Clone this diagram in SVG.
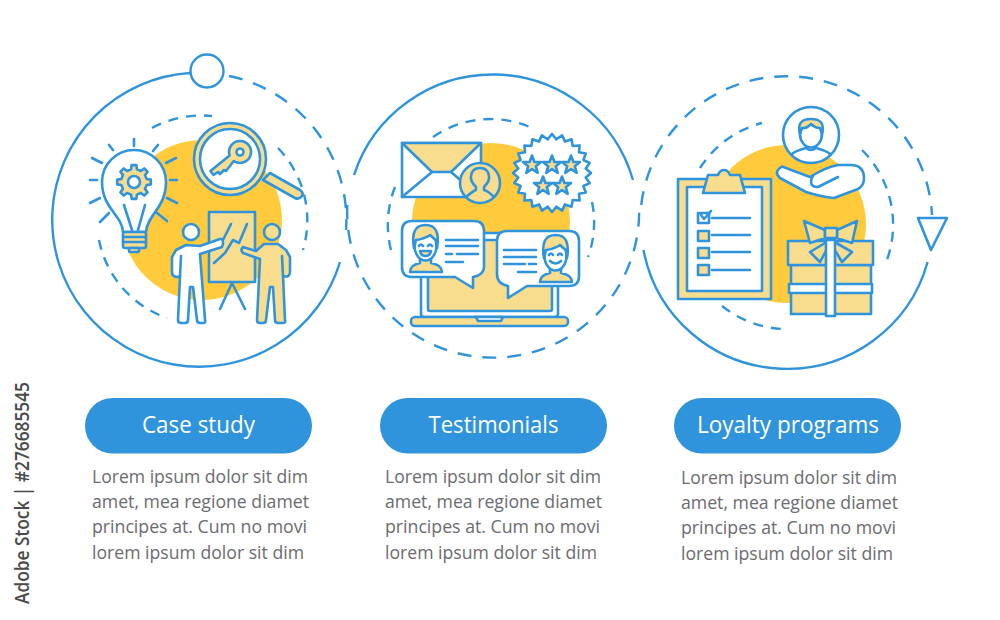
<svg xmlns="http://www.w3.org/2000/svg" width="1000" height="620" viewBox="0 0 1000 620">
<style>
.s{stroke:#3094DC;stroke-width:2.6;stroke-linejoin:round;stroke-linecap:round;fill:none}
.w{fill:#fff}.l{fill:#F9DD8F}
.c{fill:none;stroke:#3094DC;stroke-width:2.4}
.d{stroke-dasharray:14 11}
.i{stroke-dasharray:10 8}
.y{fill:#FFCB3D}
.pill{fill:#3094DC}
.t{font-family:"Open Sans","Liberation Sans",sans-serif;font-size:24px;fill:#fff;text-anchor:middle}
.b{font-family:"Open Sans","Liberation Sans",sans-serif;font-size:18px;fill:#6b6b70}
</style>
<defs>
<polygon id="star" points="0,-9.500 2.4,-3 9,-3 3.800,1.200 5.700,7.800 0,4 -5.700,7.800 -3.800,1.200 -9,-3 -2.4,-3" class="s l"/>
</defs>
<rect width="1000" height="620" fill="#fff"/>
<g id="connectors">
<path class="c" d="M190 73A147 147 0 1 0 340 262"/>
<path class="c d" d="M229 76A147 147 0 0 1 346 230"/>
<path class="c" d="M354 175A146 146 0 0 1 633 180"/>
<path class="c d" d="M347.300 205A146 146 0 1 0 639 205"/>
<path class="c d" d="M641.200 205A146 146 0 0 1 932 215"/>
<path class="c" d="M643.500 250A146 146 0 0 0 927.600 262"/>
<circle class="c" cx="207" cy="71" r="16.500"/>
<path class="c i" d="M152 128A104 104 0 0 1 212 116"/>
<path class="c i" d="M99 240A104 104 0 0 0 167 318"/>
<path class="c i" d="M278 148A104 104 0 0 1 303 250"/>
<path class="c i" d="M433 137A101 101 0 0 1 532 128"/>
<path class="c i" d="M395 187A103 103 0 0 0 393 257"/>
<path class="c i" d="M592 202A100 100 0 0 1 588 257"/>
<path class="c i" d="M700 168A105 105 0 0 1 762 123"/>
<path class="c i" d="M862 150A105 105 0 0 1 885 265"/>
<path class="c i" d="M722 306A105 105 0 0 0 782 329"/>
<polygon class="s w" points="918,218 947,218 931,250"/>
</g>
<g id="node-case-study">
<circle class="y" cx="202" cy="220" r="80"/>
<g id="bulb">
<path class="s w" d="M123 232C122 215 102 208 102 182A32 32 0 0 1 166 182C166 208 147 215 146 232Z"/>
<path class="s" d="M124 205L132 230M145 205L138 230M134 139V146M109 145L113 150M158 145L153 151M92 158L102 163M166 163L176 158M90 180H97M170 180H177M90 203L100 198M167 198L177 203M100 222L109 213M157 213L167 221"/>
<rect class="s l" x="123" y="232" width="23" height="16" rx="2"/>
<path class="s" d="M123 237H146M123 242H146"/>
<rect class="s l" x="129" y="248" width="10" height="4" rx="1"/>
<polygon class="s l" transform="translate(134 182)" points="12.67,-2.92 16.83,-2.37 16.83,2.37 12.67,2.92 11.02,6.89 13.58,10.23 10.23,13.58 6.89,11.02 2.92,12.67 2.37,16.83 -2.37,16.83 -2.92,12.67 -6.89,11.02 -10.23,13.58 -13.58,10.23 -11.02,6.89 -12.67,2.92 -16.83,2.37 -16.83,-2.37 -12.67,-2.92 -11.02,-6.89 -13.58,-10.23 -10.23,-13.58 -6.89,-11.02 -2.92,-12.67 -2.37,-16.83 2.37,-16.83 2.92,-12.67 6.89,-11.02 10.23,-13.58 13.58,-10.23 11.02,-6.89"/>
<circle class="s w" cx="134" cy="182" r="6"/>
</g>
<g id="magnifier">
<path class="s l" d="M263 180L270 173L300 190Q304 193 302 196Q299 200 295 198Z"/>
<circle class="s l" cx="230" cy="159" r="36"/>
<circle class="s w" cx="230" cy="159" r="30"/>
<path class="s l" d="M229.600 155.400L210.500 171L213.500 175L218 172L220 174L224 170L226 171L233.800 161A11 11 0 1 0 229.600 155.400Z"/>
<circle class="s w" cx="240" cy="152" r="3.500"/>
</g>
<g id="board">
<path class="s" d="M232 283L220 309M232 283L245 309"/>
<rect class="s l" x="209" y="212" width="46" height="70"/>
<path class="s" d="M214 263L225 253L233 240L239 243L247 224M223 240L231 224"/>
</g>
<g id="presenter">
<circle class="s w" cx="191" cy="232" r="8"/>
<path class="s w" d="M220 239L200 246L186 245L176 250L172 257V272Q172 277 178 277L180 276L178 320Q178 323 181 323H185Q188 323 188 320L190 287H193L197 320Q197 323 200 323H203Q206 323 205 320L200 254L222 247Q224 243 222 239Z"/>
<path class="s" d="M181 256L180 276"/>
</g>
<g id="listener">
<circle class="s l" cx="272" cy="232" r="8"/>
<path class="s l" d="M243 247Q240 250 243 253L260 259L257 320Q257 323 260 323H263Q266 323 266 320L270 287H273L275 320Q275 323 278 323H283Q286 323 285 320L283 276Q290 278 290 272V257L286 250L278 244H264L256 251Z"/>
<path class="s" d="M282 256L283 276"/>
</g>
</g>
<g id="node-testimonials">
<circle class="y" cx="491" cy="222" r="79"/>
<g id="envelope">
<rect class="s w" x="402" y="143" width="79" height="54"/>
<polygon class="s l" points="402,143 481,143 451,172 432,172"/>
<path class="s" d="M402 197L432 172M451 172L465 184"/>
<circle class="s l" cx="480" cy="183" r="20"/>
<path class="s" d="M466 197Q473 191 476 190V187Q470 181 471 176Q472 168 480 168Q488 168 489 176Q490 181 484 187V190Q488 191 494 197"/>
</g>
<g id="rosette">
<polygon class="s w" transform="translate(552 173)" points="39,0 33.71,4.44 37.67,10.09 31.41,13.01 33.77,19.5 26.97,20.7 27.58,27.58 20.7,26.97 19.5,33.77 13.01,31.41 10.09,37.67 4.44,33.71 0,39 -4.44,33.71 -10.09,37.67 -13.01,31.41 -19.5,33.77 -20.7,26.97 -27.58,27.58 -26.97,20.7 -33.77,19.5 -31.41,13.01 -37.67,10.09 -33.71,4.44 -39,0 -33.71,-4.44 -37.67,-10.09 -31.41,-13.01 -33.77,-19.5 -26.97,-20.7 -27.58,-27.58 -20.7,-26.97 -19.5,-33.77 -13.01,-31.41 -10.09,-37.67 -4.44,-33.71 0,-39 4.44,-33.71 10.09,-37.67 13.01,-31.41 19.5,-33.77 20.7,-26.97 27.58,-27.58 26.97,-20.7 33.77,-19.5 31.41,-13.01 37.67,-10.09 33.71,-4.44"/>
<use href="#star" x="532" y="165"/><use href="#star" x="552" y="165"/><use href="#star" x="571" y="165"/><use href="#star" x="543" y="186"/><use href="#star" x="562" y="186"/>
</g>
<g id="laptop">
<rect class="s w" x="421" y="233" width="137" height="84" rx="3"/>
<rect class="s l" x="428" y="240" width="124" height="71" rx="2"/>
<rect class="s l" x="411" y="317" width="157" height="9" rx="4"/>
<path class="s w" d="M476 317H503L501 321H478Z"/>
</g>
<g id="bubble-left">
<path class="s w" d="M412 221H474Q484 221 484 231V267Q484 275 473 277V288L455 277H412Q402 277 402 267V231Q402 221 412 221Z"/>
<path class="s" d="M446 240H478M446 246H478M446 254H452M457 254H478M446 262H463"/>
<path class="s l" d="M410 272Q410 265 420 263V258H431V263Q442 265 442 272Z"/>
<ellipse class="s w" cx="425.500" cy="246" rx="11" ry="14.500"/>
<path class="s l" d="M414 248Q410 225 425.500 225Q441 225 437 248L436 240Q433 238 430 235Q424 239 416 240Z"/>
<path class="s" d="M419 246Q421 243 423 246M428 246Q430 243 432 246"/>
<path class="s l" d="M420 251H431Q430 256 425.500 256Q421 256 420 251Z"/>
</g>
<g id="bubble-right">
<path class="s w" d="M507 231H569Q579 231 579 241V276Q579 286 569 286H527L508 298V286Q497 284 497 274V241Q497 231 507 231Z"/>
<path class="s" d="M504 250H536M504 257H536M504 264H525M529 264H536M518 272H536"/>
<path class="s l" d="M540 282Q540 275 550 273V268H561V273Q572 275 572 282Z"/>
<ellipse class="s w" cx="555.500" cy="256" rx="11" ry="14.500"/>
<path class="s l" d="M544 258Q540 235 555.500 235Q571 235 567 258L566 250Q563 248 560 245Q554 249 546 250Z"/>
<path class="s" d="M549 255Q551 252 553 255M558 255Q560 252 562 255M550 261Q555.500 266 561 261"/>
</g>
</g>
<g id="node-loyalty">
<circle class="y" cx="787" cy="224" r="79"/>
<g id="customer">
<circle class="s w" cx="811" cy="135" r="28"/>
<path class="s" d="M792 154Q795 151 806 148V144M816 144V148Q827 151 830 154M806 148Q811 152 816 148"/>
<ellipse class="s w" cx="811" cy="134" rx="11" ry="13.500"/>
<path class="s l" d="M800 134Q796 119 811 119Q826 119 822 134L820 128Q815 128 811 124Q806 129 802 128Z"/>
</g>
<g id="hand">
<path class="s w" d="M782 166.500L810 177Q826 167 838 165H852Q864 166 864 178Q864 186 858 189L834 198Q822 197 806 192L780 178Q773 172 782 166.500Z"/>
<path class="s" d="M838 177L818 187Q811 187 811 182Q811 178 813 176"/>
</g>
<g id="clipboard">
<rect class="s l" x="678" y="179" width="93" height="120"/>
<rect class="s w" x="687" y="187" width="75" height="104"/>
<path class="s l" d="M703 193H745L740 175H730Q728 170 724 170Q720 170 718 175H708Z"/>
<path class="s" d="M712 218H750M712 235H750M712 252H750M712 270H750"/>
<rect class="s w" x="698" y="213" width="11" height="10"/>
<rect class="s l" x="698" y="231" width="11" height="10"/>
<rect class="s l" x="698" y="248" width="11" height="10"/>
<rect class="s l" x="698" y="265" width="11" height="10"/>
<path class="s" d="M701 215L704 219L711 211"/>
</g>
<g id="gift">
<rect class="s l" x="791" y="265" width="80" height="49"/>
<rect class="s l" x="788" y="241" width="85" height="24"/>
<rect class="s w" x="789" y="284" width="83" height="9"/>
<path class="s l" d="M830 240L810 252L820 262L828 247ZM831 240L852 252L842 262L833 247Z"/>
<rect class="s w" x="826" y="240" width="9" height="76"/>
<path class="s l" d="M825 230L804 221L810 243L825 238ZM837 230L857 221L852 243L837 238Z"/>
<rect class="s l" x="825" y="228" width="12" height="10"/>
</g>
</g>
<g id="labels">
<rect class="pill" x="85" y="398" width="227" height="55.500" rx="27.700"/>
<rect class="pill" x="380" y="398" width="227" height="55.500" rx="27.700"/>
<rect class="pill" x="674" y="398" width="227" height="55.500" rx="27.700"/>
<text class="t" x="198.500" y="433" textLength="113" lengthAdjust="spacingAndGlyphs">Case study</text>
<text class="t" x="493.500" y="433" textLength="130" lengthAdjust="spacingAndGlyphs">Testimonials</text>
<text class="t" x="788" y="433" textLength="182" lengthAdjust="spacingAndGlyphs">Loyalty programs</text>
<g class="b">
<text x="92" y="483" textLength="216" lengthAdjust="spacingAndGlyphs">Lorem ipsum dolor sit dim</text>
<text x="92" y="508" textLength="217" lengthAdjust="spacingAndGlyphs">amet, mea regione diamet</text>
<text x="92" y="533" textLength="215" lengthAdjust="spacingAndGlyphs">principes at. Cum no movi</text>
<text x="92" y="558.500" textLength="212" lengthAdjust="spacingAndGlyphs">lorem ipsum dolor sit dim</text>
<text x="385" y="483" textLength="216" lengthAdjust="spacingAndGlyphs">Lorem ipsum dolor sit dim</text>
<text x="385" y="508" textLength="217" lengthAdjust="spacingAndGlyphs">amet, mea regione diamet</text>
<text x="385" y="533" textLength="215" lengthAdjust="spacingAndGlyphs">principes at. Cum no movi</text>
<text x="385" y="558.500" textLength="212" lengthAdjust="spacingAndGlyphs">lorem ipsum dolor sit dim</text>
<text x="681" y="484" textLength="216" lengthAdjust="spacingAndGlyphs">Lorem ipsum dolor sit dim</text>
<text x="681" y="509" textLength="217" lengthAdjust="spacingAndGlyphs">amet, mea regione diamet</text>
<text x="681" y="534" textLength="215" lengthAdjust="spacingAndGlyphs">principes at. Cum no movi</text>
<text x="681" y="559.500" textLength="212" lengthAdjust="spacingAndGlyphs">lorem ipsum dolor sit dim</text>
</g>
<text transform="translate(29 604) rotate(-90)" font-family="Open Sans, Liberation Sans, sans-serif" font-size="19" font-weight="600" fill="#4a4a4a" textLength="222" lengthAdjust="spacingAndGlyphs">Adobe Stock | #276685545</text>
</g>
</svg>
